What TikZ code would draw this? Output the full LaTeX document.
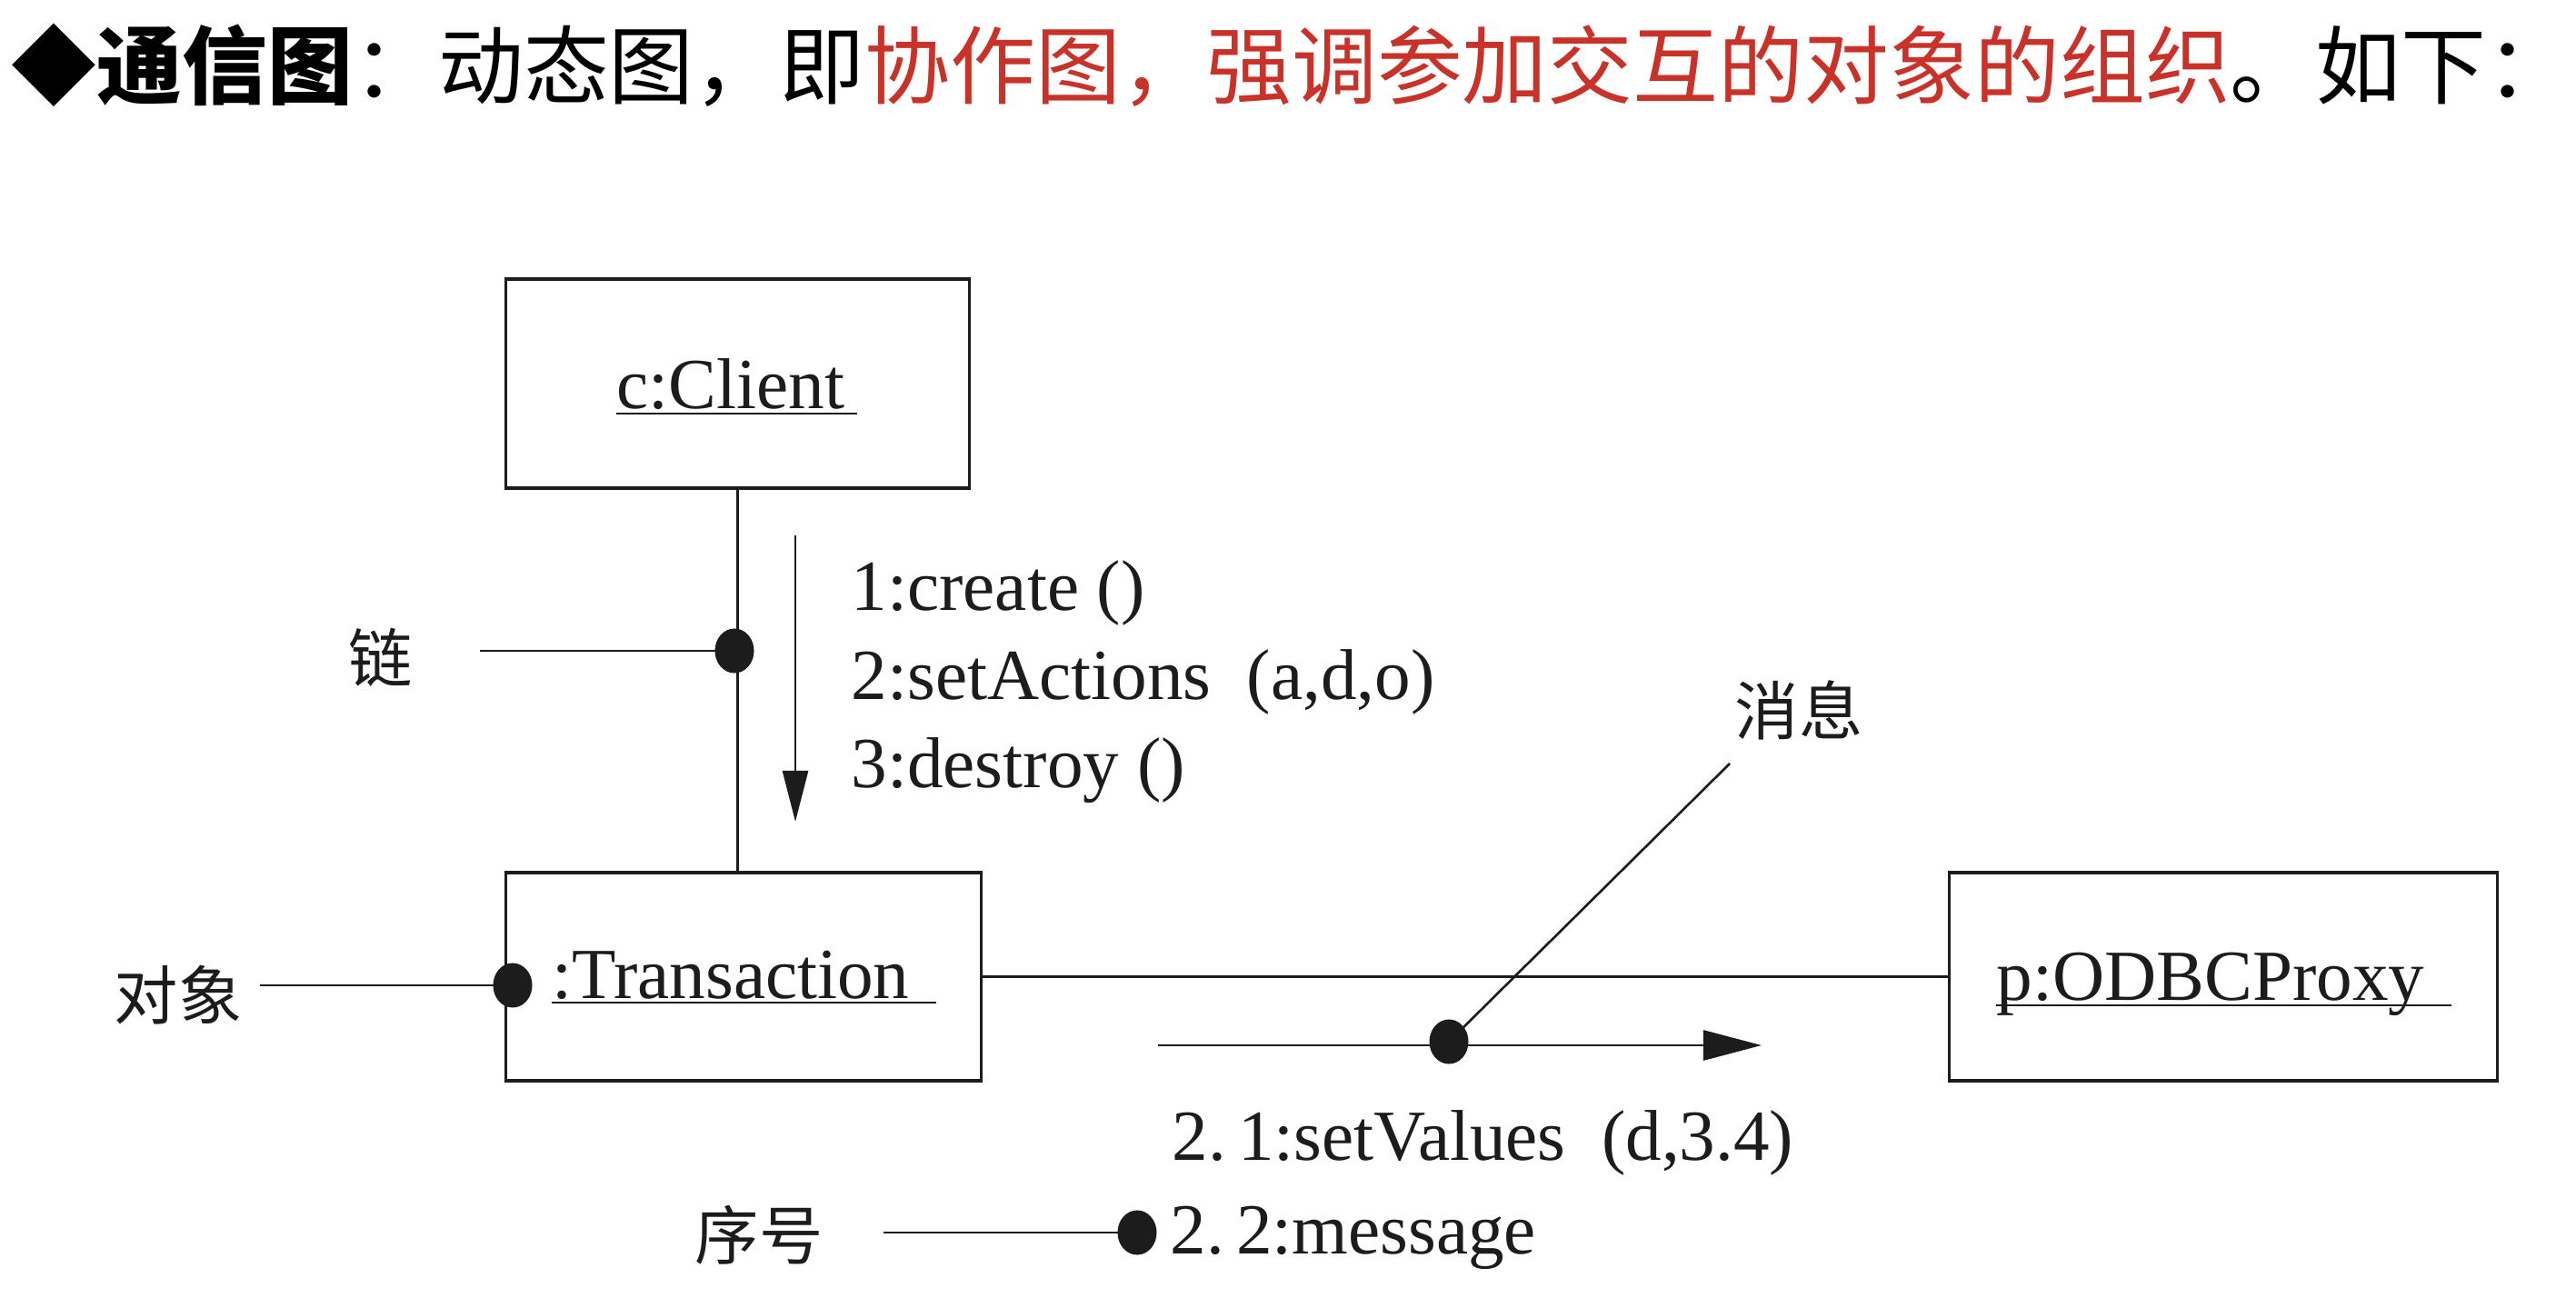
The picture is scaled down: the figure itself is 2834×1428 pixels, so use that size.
\documentclass[tikz,border=0pt]{standalone}
\usepackage{fontspec}
\setmainfont{Liberation Serif}
\newfontfamily\cjk{Noto Sans CJK SC}
\usetikzlibrary{arrows.meta,shapes.geometric}
\definecolor{titlered}{RGB}{200,50,40}
\definecolor{ink}{RGB}{28,28,28}
\begin{document}
\begin{tikzpicture}[x=0.01cm,y=-0.01cm,
  obj/.style={draw=ink, line width=0.9pt, inner sep=0pt},
  lbl/.style={inner sep=0pt, text=ink, font=\fontsize{22.5}{26}\selectfont},
  cn/.style={inner sep=0pt, text=ink, font=\cjk\fontsize{20}{24}\selectfont},
  link/.style={draw=ink, line width=0.75pt},
  uline/.style={draw=ink, line width=0.8pt},
  dot/.style={ellipse, fill=ink, inner sep=0pt, minimum width=0.43cm, minimum height=0.49cm},
  msgv/.style={draw=ink, line width=0.75pt, -{Triangle[length=0.56cm, width=0.28cm]}},
  msgh/.style={draw=ink, line width=0.75pt, -{Triangle[length=0.64cm, width=0.33cm]}}]
\fill[white] (0,0) rectangle (2834,1428);
\useasboundingbox (0,0) rectangle (2834,1428);

% title
\node[anchor=west, inner sep=0pt, font=\cjk\fontsize{26.7}{31}\selectfont] (title) at (12,72)
  {\textbf{◆通信图}：动态图，即\textcolor{titlered}{协作图，强调参加交互的对象的组织}。如下：};

% object boxes
\node[obj, minimum width=5.09cm, minimum height=2.30cm] (client) at (811.5,422) {};
\node[obj, minimum width=5.22cm, minimum height=2.29cm] (trans) at (818,1074.5) {};
\node[obj, minimum width=6.02cm, minimum height=2.29cm] (proxy) at (2446,1074.5) {};

% object names (underlined)
\node[lbl, anchor=base west] (clientname) at (678,450) {c:Client};
\draw[uline] (678,455) -- (943,455);
\node[lbl, anchor=base west] (transname) at (607,1098) {:Transaction};
\draw[uline] (607,1103) -- (1030,1103);
\node[lbl, anchor=base west] (proxyname) at (2196,1100) {p:ODBCProxy};
\draw[uline] (2196,1106) -- (2697,1106);

% links
\draw[link] (client.south) -- (client.south |- trans.north);
\draw[link] (trans.east) -- (proxy.west);

% messages on link client-transaction
\coordinate (vs) at (875,589);
\coordinate (ve) at (875,904);
\draw[msgv] (vs) -- (ve);
\node[lbl, anchor=base west] (m1) at (936,672) {1:create ()};
\node[lbl, anchor=base west] (m2) at (936,769) {2:setActions\ \ (a,d,o)};
\node[lbl, anchor=base west] (m3) at (936,866) {3:destroy ()};

% message transaction -> proxy
\coordinate (hs) at (1274,1150);
\coordinate (he) at (1938,1150);
\draw[msgh] (hs) -- (he);
\node[lbl, anchor=base west] (m21) at (1289,1276) {2.\,1:setValues\ \ (d,3.4)};
\node[lbl, anchor=base west] (m22) at (1287,1379) {2.\,2:message};

% annotations
\node[cn] (lian) at (419,723) {链};
\coordinate (lianL) at (528,716);
\node[dot] (d1) at (808,716) {};
\draw[link] (lianL) -- (d1.center);

\node[cn] (duixiang) at (196,1095) {对象};
\coordinate (dxL) at (286,1084);
\node[dot] (d2) at (564,1084) {};
\draw[link] (dxL) -- (d2.center);

\node[cn] (xiaoxi) at (1979,781) {消息};
\coordinate (xxE) at (1903,840);
\node[dot] (d3) at (1594,1146) {};
\draw[link] (xxE) -- (d3.center);

\node[cn] (xuhao) at (835,1359) {序号};
\coordinate (xhL) at (972,1356);
\node[dot] (d4) at (1251,1356) {};
\draw[link] (xhL) -- (d4.center);
\end{tikzpicture}
\end{document}
